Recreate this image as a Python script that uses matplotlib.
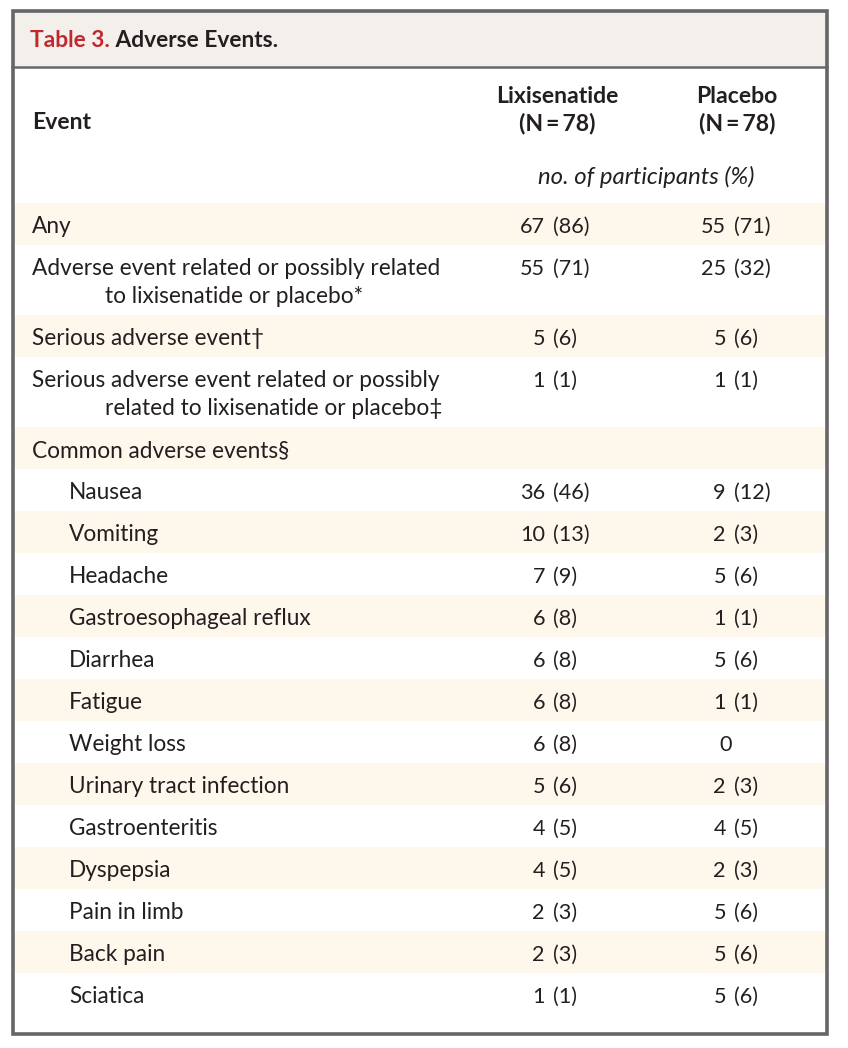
import matplotlib
matplotlib.use("Agg")
import matplotlib.pyplot as plt
from matplotlib.patches import Rectangle

plt.rcParams['font.family'] = ['Lato', 'DejaVu Sans']

# table content
events = [
    "Any",
    "Adverse event related or possibly related\nto lixisenatide or placebo*",
    "Serious adverse event\u2020",
    "Serious adverse event related or possibly\nrelated to lixisenatide or placebo\u2021",
    "Common adverse events\u00a7",
    "Nausea", "Vomiting", "Headache", "Gastroesophageal reflux", "Diarrhea",
    "Fatigue", "Weight loss", "Urinary tract infection", "Gastroenteritis",
    "Dyspepsia", "Pain in limb", "Back pain", "Sciatica",
]
is_sub = [False] * 5 + [True] * 13
lixi_n = [67, 55, 5, 1, None, 36, 10, 7, 6, 6, 6, 6, 5, 4, 4, 2, 2, 1]
lixi_pct = [86, 71, 6, 1, None, 46, 13, 9, 8, 8, 8, 8, 6, 5, 5, 3, 3, 1]
plac_n = [55, 25, 5, 1, None, 9, 2, 5, 1, 5, 1, 0, 2, 4, 2, 5, 5, 5]
plac_pct = [71, 32, 6, 1, None, 12, 3, 6, 1, 6, 1, None, 3, 5, 3, 6, 6, 6]
col_names = ["Lixisenatide", "Placebo"]
col_sizes = [78, 78]

FS = 16.3      # row labels
FS_NUM = 15.6  # numbers
FS_HEAD = 16.6
INK = "#231f20"
BAND = "#fdf8eb"
EDGE = "#666666"

fig = plt.figure(figsize=(8.48, 10.48), dpi=100)
ax = fig.add_axes([0, 0, 1, 1])
ax.set_xlim(0, 848)
ax.set_ylim(1048, 0)
ax.axis('off')

# frame + title band
ax.add_patch(Rectangle((12, 10), 815, 56, facecolor="#f3f0eb", edgecolor='none'))
ax.plot([12, 827], [66.5, 66.5], color=EDGE, lw=1.8)
ax.add_patch(Rectangle((12.5, 10.5), 814, 1023, facecolor='none', edgecolor=EDGE, lw=2.6, zorder=5))

t = ax.text(30, 47, "Table 3.", color="#c1272d", fontsize=16.4, fontweight='bold', va='baseline')
ax.annotate(" Adverse Events.", xycoords=t, xy=(1, 0), va='bottom', color=INK,
            fontsize=16.4, fontweight='bold')

# header
col_x = [557, 737]
num_x = [545, 726]
ax.text(32, 129, "Event", fontsize=FS_HEAD, fontweight='bold', color=INK, va='baseline')
for cx, name, n in zip(col_x, col_names, col_sizes):
    ax.text(cx, 103, name, fontsize=FS_HEAD, fontweight='bold', color=INK, ha='center', va='baseline')
    ax.text(cx, 130, "(N\u2009=\u2009%d)" % n, fontsize=FS_HEAD, fontweight='bold', color=INK,
            ha='center', va='baseline')
ax.text(646, 184, "no. of participants (%)", fontsize=17.2, style='italic', color=INK,
        ha='center', va='baseline')

# rows
top = 203
for i, label in enumerate(events):
    lines = label.split("\n")
    h = 42 + 28 * (len(lines) - 1)
    if i % 2 == 0:
        ax.add_patch(Rectangle((14, top), 812, h, facecolor=BAND, edgecolor='none'))
    x0 = 69 if is_sub[i] else 32
    for k, ln in enumerate(lines):
        ax.text(x0 if k == 0 else 105, top + 30 + 28 * k, ln, fontsize=FS, color=INK, va='baseline')
    for nx, cnt, pct in ((num_x[0], lixi_n[i], lixi_pct[i]), (num_x[1], plac_n[i], plac_pct[i])):
        if cnt is None:
            continue
        if pct is None:
            ax.text(nx, top + 30, str(cnt), fontsize=FS_NUM, color=INK, ha='center', va='baseline')
        else:
            ax.text(nx, top + 30, str(cnt), fontsize=FS_NUM, color=INK, ha='right', va='baseline')
            ax.text(nx + 8, top + 30, "(%d)" % pct, fontsize=FS_NUM, color=INK, ha='left', va='baseline')
    top += h

fig.savefig("out.png", dpi=100)
